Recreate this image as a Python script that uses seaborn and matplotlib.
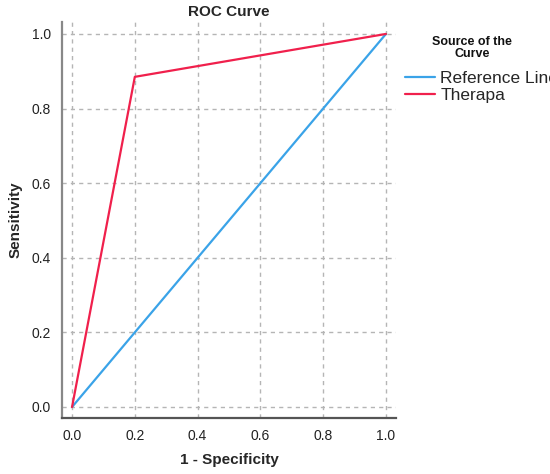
import matplotlib
matplotlib.use("Agg")
import matplotlib.pyplot as plt
import seaborn as sns
import pandas as pd

ref_x = [0.0, 1.0]
ref_y = [0.0, 1.0]
ther_x = [0.0, 0.2, 1.0]
ther_y = [0.0, 0.885, 1.0]
series_names = ["Reference Line", "Therapa"]
ticks = [0.0, 0.2, 0.4, 0.6, 0.8, 1.0]
tick_labels = ["0.0", "0.2", "0.4", "0.6", "0.8", "1.0"]

df = pd.DataFrame({
    "x": ref_x + ther_x,
    "y": ref_y + ther_y,
    "src": [series_names[0]] * len(ref_x) + [series_names[1]] * len(ther_x),
})

sns.set_style("white")
plt.rcParams["font.family"] = ["Liberation Sans", "DejaVu Sans"]

W, H = 550, 474
fig = plt.figure(figsize=(5.5, 4.74), dpi=100)
ax = fig.add_axes([62/W, 1-418/H, (396-62)/W, (418-22)/H])

palette = {series_names[0]: "#3AA3E8", series_names[1]: "#F0204C"}
sns.lineplot(data=df, x="x", y="y", hue="src", palette=palette, ax=ax,
             linewidth=1.6, estimator=None, sort=False, legend=True)

ax.set_xlim(-0.032, 1.032)
ax.set_ylim(-0.0295, 1.032)
ax.set_xticks(ticks)
ax.set_xticklabels(tick_labels)
ax.set_yticks(ticks)
ax.set_yticklabels(tick_labels)
ax.tick_params(length=0, labelsize=10, colors="#222222", pad=8)
ax.grid(True, color="#b5b5b5", linestyle=(0, (3, 3)), linewidth=1)
for s in ["top", "right"]:
    ax.spines[s].set_visible(False)
ax.spines["left"].set_color("#888888")
ax.spines["left"].set_linewidth(1.6)
ax.spines["bottom"].set_color("#555555")
ax.spines["bottom"].set_linewidth(1.6)

ax.set_xlabel("1 - Specificity", fontsize=11, fontweight="bold")
ax.set_ylabel("Sensitivity", fontsize=11, fontweight="bold")
ax.xaxis.set_label_coords((229-62)/334, (418-460)/396)
ax.yaxis.set_label_coords((16-62)/334, 0.5)
ax.xaxis.label.set_va("center")
ax.yaxis.label.set_va("center")
ax.set_title("ROC Curve", fontsize=11, fontweight="bold", pad=4)

handles, labels = ax.get_legend_handles_labels()
ax.get_legend().remove()
leg = fig.legend(handles, labels, loc="upper left",
                 bbox_to_anchor=(389/W, 1-55/H), frameon=False,
                 fontsize=12.5, handlelength=1.75,
                 handletextpad=0.3, labelspacing=0.1)
fig.text(472/W, 1-36/H, "Source of the\nCurve", ha="center", va="top",
         fontsize=9, fontweight="bold", linespacing=0.95, color="#111111")

fig.savefig("out.png", dpi=100)
